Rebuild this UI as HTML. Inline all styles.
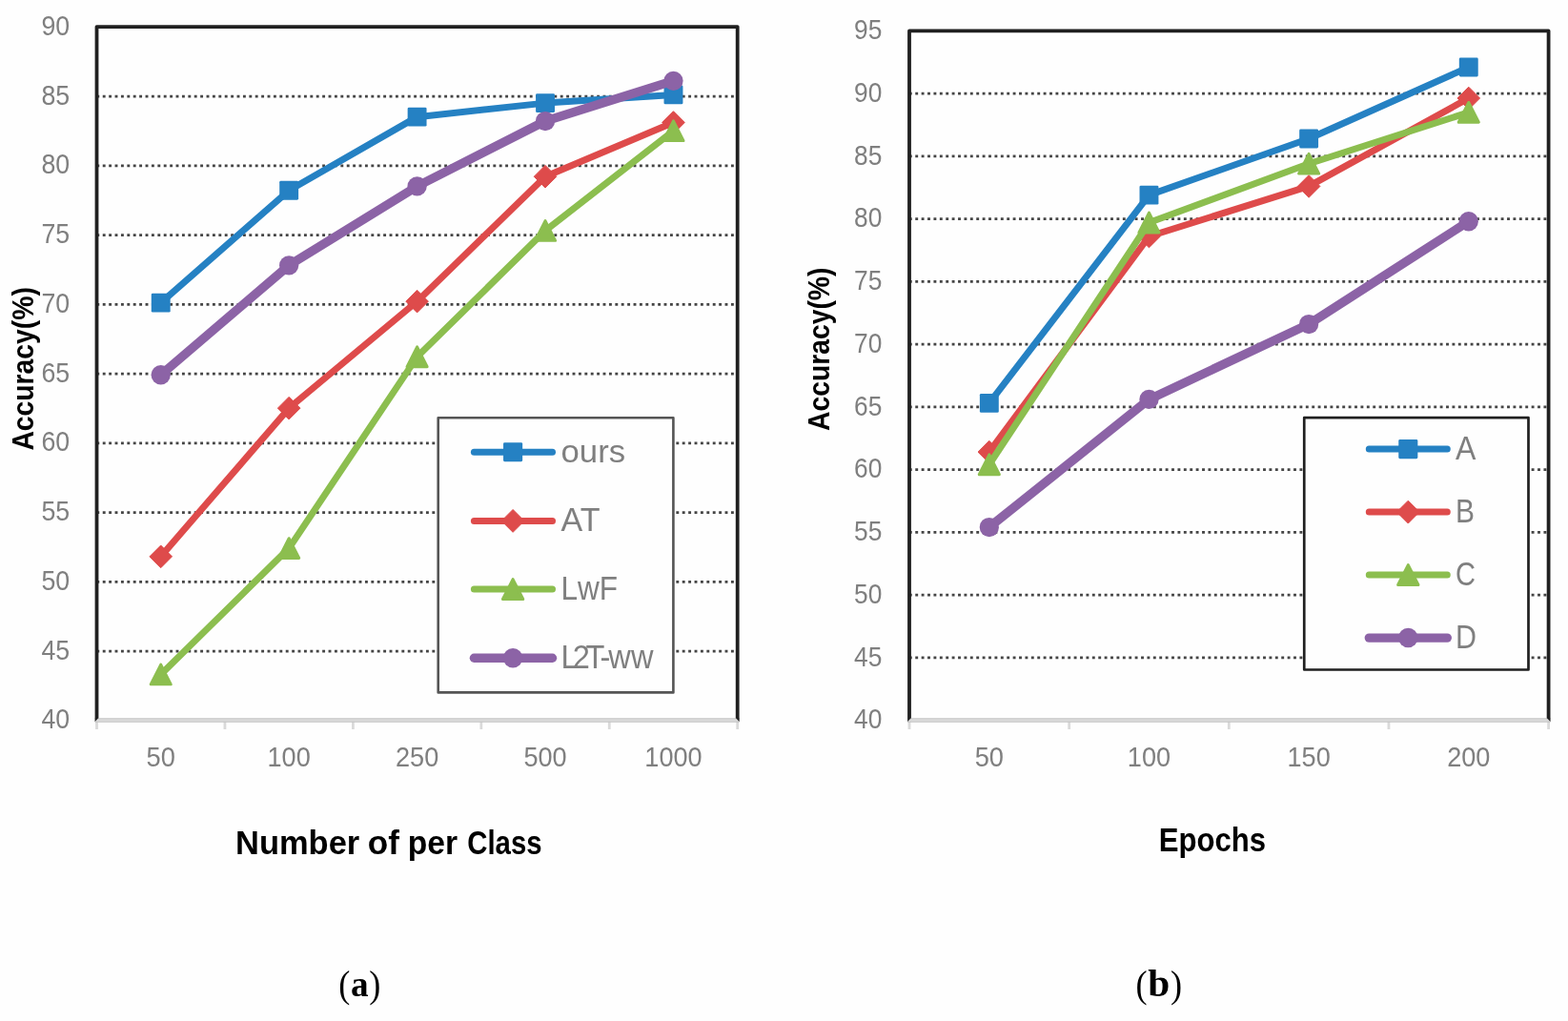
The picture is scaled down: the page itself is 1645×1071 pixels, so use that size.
<!DOCTYPE html>
<html lang="en">
<head>
<meta charset="utf-8">
<title>Accuracy comparison charts</title>
<style>
html, body { margin: 0; padding: 0; background: #fefefe; }
body { width: 1645px; height: 1071px; overflow: hidden; }
svg { display: block; }
text { white-space: pre; }
</style>
</head>
<body>
<svg width="1645" height="1071" viewBox="0 0 1645 1071">
<rect x="0" y="0" width="1645" height="1071" fill="#fefefe"/>
<g>
<line x1="101.35" y1="683.06" x2="771.7" y2="683.06" stroke="#454545" stroke-width="2.8" stroke-dasharray="2.9 3.5" stroke-dashoffset="0"/>
<line x1="101.35" y1="610.32" x2="771.7" y2="610.32" stroke="#454545" stroke-width="2.8" stroke-dasharray="2.9 3.5" stroke-dashoffset="0"/>
<line x1="101.35" y1="537.58" x2="771.7" y2="537.58" stroke="#454545" stroke-width="2.8" stroke-dasharray="2.9 3.5" stroke-dashoffset="0"/>
<line x1="101.35" y1="464.84" x2="771.7" y2="464.84" stroke="#454545" stroke-width="2.8" stroke-dasharray="2.9 3.5" stroke-dashoffset="0"/>
<line x1="101.35" y1="392.1" x2="771.7" y2="392.1" stroke="#454545" stroke-width="2.8" stroke-dasharray="2.9 3.5" stroke-dashoffset="0"/>
<line x1="101.35" y1="319.36" x2="771.7" y2="319.36" stroke="#454545" stroke-width="2.8" stroke-dasharray="2.9 3.5" stroke-dashoffset="0"/>
<line x1="101.35" y1="246.62" x2="771.7" y2="246.62" stroke="#454545" stroke-width="2.8" stroke-dasharray="2.9 3.5" stroke-dashoffset="0"/>
<line x1="101.35" y1="173.88" x2="771.7" y2="173.88" stroke="#454545" stroke-width="2.8" stroke-dasharray="2.9 3.5" stroke-dashoffset="0"/>
<line x1="101.35" y1="101.14" x2="771.7" y2="101.14" stroke="#454545" stroke-width="2.8" stroke-dasharray="2.9 3.5" stroke-dashoffset="0"/>
<line x1="101.5" y1="755.5" x2="101.5" y2="765" stroke="#dadada" stroke-width="2.8"/>
<line x1="235.94" y1="755.5" x2="235.94" y2="765" stroke="#dadada" stroke-width="2.8"/>
<line x1="370.38" y1="755.5" x2="370.38" y2="765" stroke="#dadada" stroke-width="2.8"/>
<line x1="504.82" y1="755.5" x2="504.82" y2="765" stroke="#dadada" stroke-width="2.8"/>
<line x1="639.26" y1="755.5" x2="639.26" y2="765" stroke="#dadada" stroke-width="2.8"/>
<line x1="773.7" y1="755.5" x2="773.7" y2="765" stroke="#dadada" stroke-width="2.8"/>
<line x1="99.6" y1="755.5" x2="775.6" y2="755.5" stroke="#c3c3c3" stroke-width="4.6"/>
<line x1="99.6" y1="755.5" x2="775.6" y2="755.5" stroke="#dadada" stroke-width="2.6"/>
<polyline points="101.5,753.3 101.5,28.1 773.7,28.1 773.7,753.3" fill="none" stroke="#202020" stroke-width="3.8" stroke-linejoin="round"/>
<polygon points="99.6,753.1 103.4,753.1 99.6,757.1" fill="#202020"/>
<polygon points="771.8,753.1 775.6,753.1 775.6,757.1" fill="#202020"/>
<text x="73.1" y="764.3" text-anchor="end" font-family="'Liberation Sans', 'DejaVu Sans', sans-serif" font-size="28.7" fill="#7f7f7f" textLength="29.7" lengthAdjust="spacingAndGlyphs">40</text>
<text x="73.1" y="691.56" text-anchor="end" font-family="'Liberation Sans', 'DejaVu Sans', sans-serif" font-size="28.7" fill="#7f7f7f" textLength="29.7" lengthAdjust="spacingAndGlyphs">45</text>
<text x="73.1" y="618.82" text-anchor="end" font-family="'Liberation Sans', 'DejaVu Sans', sans-serif" font-size="28.7" fill="#7f7f7f" textLength="29.7" lengthAdjust="spacingAndGlyphs">50</text>
<text x="73.1" y="546.08" text-anchor="end" font-family="'Liberation Sans', 'DejaVu Sans', sans-serif" font-size="28.7" fill="#7f7f7f" textLength="29.7" lengthAdjust="spacingAndGlyphs">55</text>
<text x="73.1" y="473.34" text-anchor="end" font-family="'Liberation Sans', 'DejaVu Sans', sans-serif" font-size="28.7" fill="#7f7f7f" textLength="29.7" lengthAdjust="spacingAndGlyphs">60</text>
<text x="73.1" y="400.6" text-anchor="end" font-family="'Liberation Sans', 'DejaVu Sans', sans-serif" font-size="28.7" fill="#7f7f7f" textLength="29.7" lengthAdjust="spacingAndGlyphs">65</text>
<text x="73.1" y="327.86" text-anchor="end" font-family="'Liberation Sans', 'DejaVu Sans', sans-serif" font-size="28.7" fill="#7f7f7f" textLength="29.7" lengthAdjust="spacingAndGlyphs">70</text>
<text x="73.1" y="255.12" text-anchor="end" font-family="'Liberation Sans', 'DejaVu Sans', sans-serif" font-size="28.7" fill="#7f7f7f" textLength="29.7" lengthAdjust="spacingAndGlyphs">75</text>
<text x="73.1" y="182.38" text-anchor="end" font-family="'Liberation Sans', 'DejaVu Sans', sans-serif" font-size="28.7" fill="#7f7f7f" textLength="29.7" lengthAdjust="spacingAndGlyphs">80</text>
<text x="73.1" y="109.64" text-anchor="end" font-family="'Liberation Sans', 'DejaVu Sans', sans-serif" font-size="28.7" fill="#7f7f7f" textLength="29.7" lengthAdjust="spacingAndGlyphs">85</text>
<text x="73.1" y="36.9" text-anchor="end" font-family="'Liberation Sans', 'DejaVu Sans', sans-serif" font-size="28.7" fill="#7f7f7f" textLength="29.7" lengthAdjust="spacingAndGlyphs">90</text>
<text x="168.72" y="803.8" text-anchor="middle" font-family="'Liberation Sans', 'DejaVu Sans', sans-serif" font-size="28.7" fill="#7f7f7f" textLength="30.3" lengthAdjust="spacingAndGlyphs">50</text>
<text x="303.16" y="803.8" text-anchor="middle" font-family="'Liberation Sans', 'DejaVu Sans', sans-serif" font-size="28.7" fill="#7f7f7f" textLength="45.2" lengthAdjust="spacingAndGlyphs">100</text>
<text x="437.6" y="803.8" text-anchor="middle" font-family="'Liberation Sans', 'DejaVu Sans', sans-serif" font-size="28.7" fill="#7f7f7f" textLength="45.2" lengthAdjust="spacingAndGlyphs">250</text>
<text x="572.04" y="803.8" text-anchor="middle" font-family="'Liberation Sans', 'DejaVu Sans', sans-serif" font-size="28.7" fill="#7f7f7f" textLength="45.2" lengthAdjust="spacingAndGlyphs">500</text>
<text x="706.48" y="803.8" text-anchor="middle" font-family="'Liberation Sans', 'DejaVu Sans', sans-serif" font-size="28.7" fill="#7f7f7f" textLength="60.3" lengthAdjust="spacingAndGlyphs">1000</text>
<text transform="translate(34.8,386.9) rotate(-90)" text-anchor="middle" font-family="'Liberation Sans', 'DejaVu Sans', sans-serif" font-weight="bold" font-size="31.8" fill="#000" textLength="171.4" lengthAdjust="spacingAndGlyphs">Accuracy(%)</text>
<text y="895.9" font-family="'Liberation Sans', 'DejaVu Sans', sans-serif" font-weight="bold" font-size="35" fill="#000"><tspan x="247" textLength="130.22" lengthAdjust="spacingAndGlyphs">Number</tspan> <tspan x="385.76" textLength="33.1" lengthAdjust="spacingAndGlyphs">of</tspan> <tspan x="427.77" textLength="52.23" lengthAdjust="spacingAndGlyphs">per</tspan> <tspan x="490.28" textLength="78.22" lengthAdjust="spacingAndGlyphs">Class</tspan></text>
<polyline points="168.72,317.61 303.16,199.77 437.6,122.66 572.04,108.11 706.48,99.39" fill="none" stroke="#2581c3" stroke-width="7.0" stroke-linejoin="round" stroke-linecap="round"/>
<rect x="158.77" y="307.66" width="19.9" height="19.9" rx="1.4" fill="#2581c3"/>
<rect x="293.21" y="189.82" width="19.9" height="19.9" rx="1.4" fill="#2581c3"/>
<rect x="427.65" y="112.71" width="19.9" height="19.9" rx="1.4" fill="#2581c3"/>
<rect x="562.09" y="98.16" width="19.9" height="19.9" rx="1.4" fill="#2581c3"/>
<rect x="696.53" y="89.44" width="19.9" height="19.9" rx="1.4" fill="#2581c3"/>
<polyline points="168.72,583.83 303.16,428.17 437.6,316.15 572.04,185.22 706.48,128.48" fill="none" stroke="#de4b4b" stroke-width="7.0" stroke-linejoin="round" stroke-linecap="round"/>
<polygon points="168.72,572.03 180.52,583.83 168.72,595.63 156.92,583.83" fill="#de4b4b" stroke="#de4b4b" stroke-width="1" stroke-linejoin="round"/>
<polygon points="303.16,416.37 314.96,428.17 303.16,439.97 291.36,428.17" fill="#de4b4b" stroke="#de4b4b" stroke-width="1" stroke-linejoin="round"/>
<polygon points="437.6,304.35 449.4,316.15 437.6,327.95 425.8,316.15" fill="#de4b4b" stroke="#de4b4b" stroke-width="1" stroke-linejoin="round"/>
<polygon points="572.04,173.42 583.84,185.22 572.04,197.02 560.24,185.22" fill="#de4b4b" stroke="#de4b4b" stroke-width="1" stroke-linejoin="round"/>
<polygon points="706.48,116.68 718.28,128.48 706.48,140.28 694.68,128.48" fill="#de4b4b" stroke="#de4b4b" stroke-width="1" stroke-linejoin="round"/>
<polyline points="168.72,707.49 303.16,575.1 437.6,374.34 572.04,241.96 706.48,137.21" fill="none" stroke="#8cbe4f" stroke-width="7.0" stroke-linejoin="round" stroke-linecap="round"/>
<polygon points="168.72,697.09 179.27,717.84 158.17,717.84" fill="#8cbe4f" stroke="#8cbe4f" stroke-width="3" stroke-linejoin="round"/>
<polygon points="303.16,564.7 313.71,585.45 292.61,585.45" fill="#8cbe4f" stroke="#8cbe4f" stroke-width="3" stroke-linejoin="round"/>
<polygon points="437.6,363.94 448.15,384.69 427.05,384.69" fill="#8cbe4f" stroke="#8cbe4f" stroke-width="3" stroke-linejoin="round"/>
<polygon points="572.04,231.56 582.59,252.31 561.49,252.31" fill="#8cbe4f" stroke="#8cbe4f" stroke-width="3" stroke-linejoin="round"/>
<polygon points="706.48,126.81 717.03,147.56 695.93,147.56" fill="#8cbe4f" stroke="#8cbe4f" stroke-width="3" stroke-linejoin="round"/>
<polyline points="168.72,393.25 303.16,278.33 437.6,195.4 572.04,127.03 706.48,84.84" fill="none" stroke="#8c63a6" stroke-width="9.4" stroke-linejoin="round" stroke-linecap="round"/>
<circle cx="168.72" cy="393.25" r="10.15" fill="#8c63a6"/>
<circle cx="303.16" cy="278.33" r="10.15" fill="#8c63a6"/>
<circle cx="437.6" cy="195.4" r="10.15" fill="#8c63a6"/>
<circle cx="572.04" cy="127.03" r="10.15" fill="#8c63a6"/>
<circle cx="706.48" cy="84.84" r="10.15" fill="#8c63a6"/>
<rect x="459.7" y="438.2" width="246.7" height="288.2" fill="#fefefe" stroke="#555555" stroke-width="2.6" stroke-linejoin="round"/>
<line x1="497.4" y1="474.2" x2="579.5" y2="474.2" stroke="#2581c3" stroke-width="7.0" stroke-linecap="round"/>
<rect x="528.05" y="464.15" width="20.1" height="20.1" rx="1.4" fill="#2581c3"/>
<text x="588.5" y="485.2" font-family="'Liberation Sans', 'DejaVu Sans', sans-serif" font-size="33.2" fill="#7f7f7f" textLength="67.6" lengthAdjust="spacingAndGlyphs">ours</text>
<line x1="497.4" y1="546.4" x2="579.5" y2="546.4" stroke="#de4b4b" stroke-width="7.0" stroke-linecap="round"/>
<polygon points="538.1,534.48 550.02,546.4 538.1,558.32 526.18,546.4" fill="#de4b4b" stroke="#de4b4b" stroke-width="1" stroke-linejoin="round"/>
<text x="588.5" y="557.2" font-family="'Liberation Sans', 'DejaVu Sans', sans-serif" font-size="35.4" fill="#7f7f7f" textLength="41" lengthAdjust="spacingAndGlyphs">AT</text>
<line x1="497.4" y1="618.1" x2="579.5" y2="618.1" stroke="#8cbe4f" stroke-width="7.0" stroke-linecap="round"/>
<polygon points="538.1,607.6 548.76,628.55 527.44,628.55" fill="#8cbe4f" stroke="#8cbe4f" stroke-width="3" stroke-linejoin="round"/>
<text x="588.5" y="628.9" font-family="'Liberation Sans', 'DejaVu Sans', sans-serif" font-size="35.4" fill="#7f7f7f" textLength="59.6" lengthAdjust="spacingAndGlyphs">LwF</text>
<line x1="497.4" y1="690.2" x2="579.5" y2="690.2" stroke="#8c63a6" stroke-width="9.4" stroke-linecap="round"/>
<circle cx="538.1" cy="690.2" r="10.25" fill="#8c63a6"/>
<text transform="translate(588.6,700.5) scale(0.92,1)" x="0 13.26 28.15 44.46 53.91 79.89" y="0" font-family="'Liberation Sans', 'DejaVu Sans', sans-serif" font-size="35.4" fill="#7f7f7f">L2T-ww</text>
</g>
<g>
<line x1="953.85" y1="689.81" x2="1622.6" y2="689.81" stroke="#454545" stroke-width="2.8" stroke-dasharray="2.9 3.5" stroke-dashoffset="0"/>
<line x1="953.85" y1="624.08" x2="1622.6" y2="624.08" stroke="#454545" stroke-width="2.8" stroke-dasharray="2.9 3.5" stroke-dashoffset="0"/>
<line x1="953.85" y1="558.34" x2="1622.6" y2="558.34" stroke="#454545" stroke-width="2.8" stroke-dasharray="2.9 3.5" stroke-dashoffset="0"/>
<line x1="953.85" y1="492.6" x2="1622.6" y2="492.6" stroke="#454545" stroke-width="2.8" stroke-dasharray="2.9 3.5" stroke-dashoffset="0"/>
<line x1="953.85" y1="426.87" x2="1622.6" y2="426.87" stroke="#454545" stroke-width="2.8" stroke-dasharray="2.9 3.5" stroke-dashoffset="0"/>
<line x1="953.85" y1="361.13" x2="1622.6" y2="361.13" stroke="#454545" stroke-width="2.8" stroke-dasharray="2.9 3.5" stroke-dashoffset="0"/>
<line x1="953.85" y1="295.4" x2="1622.6" y2="295.4" stroke="#454545" stroke-width="2.8" stroke-dasharray="2.9 3.5" stroke-dashoffset="0"/>
<line x1="953.85" y1="229.66" x2="1622.6" y2="229.66" stroke="#454545" stroke-width="2.8" stroke-dasharray="2.9 3.5" stroke-dashoffset="0"/>
<line x1="953.85" y1="163.92" x2="1622.6" y2="163.92" stroke="#454545" stroke-width="2.8" stroke-dasharray="2.9 3.5" stroke-dashoffset="0"/>
<line x1="953.85" y1="98.19" x2="1622.6" y2="98.19" stroke="#454545" stroke-width="2.8" stroke-dasharray="2.9 3.5" stroke-dashoffset="0"/>
<line x1="954" y1="755.5" x2="954" y2="765" stroke="#dadada" stroke-width="2.8"/>
<line x1="1121.65" y1="755.5" x2="1121.65" y2="765" stroke="#dadada" stroke-width="2.8"/>
<line x1="1289.3" y1="755.5" x2="1289.3" y2="765" stroke="#dadada" stroke-width="2.8"/>
<line x1="1456.95" y1="755.5" x2="1456.95" y2="765" stroke="#dadada" stroke-width="2.8"/>
<line x1="1624.6" y1="755.5" x2="1624.6" y2="765" stroke="#dadada" stroke-width="2.8"/>
<line x1="952.1" y1="755.5" x2="1626.5" y2="755.5" stroke="#c3c3c3" stroke-width="4.6"/>
<line x1="952.1" y1="755.5" x2="1626.5" y2="755.5" stroke="#dadada" stroke-width="2.6"/>
<polyline points="954,753.3 954,32.4 1624.6,32.4 1624.6,753.3" fill="none" stroke="#202020" stroke-width="3.8" stroke-linejoin="round"/>
<polygon points="952.1,753.1 955.9,753.1 952.1,757.1" fill="#202020"/>
<polygon points="1622.7,753.1 1626.5,753.1 1626.5,757.1" fill="#202020"/>
<text x="925.3" y="764.3" text-anchor="end" font-family="'Liberation Sans', 'DejaVu Sans', sans-serif" font-size="28.7" fill="#7f7f7f" textLength="29.3" lengthAdjust="spacingAndGlyphs">40</text>
<text x="925.3" y="698.56" text-anchor="end" font-family="'Liberation Sans', 'DejaVu Sans', sans-serif" font-size="28.7" fill="#7f7f7f" textLength="29.3" lengthAdjust="spacingAndGlyphs">45</text>
<text x="925.3" y="632.83" text-anchor="end" font-family="'Liberation Sans', 'DejaVu Sans', sans-serif" font-size="28.7" fill="#7f7f7f" textLength="29.3" lengthAdjust="spacingAndGlyphs">50</text>
<text x="925.3" y="567.09" text-anchor="end" font-family="'Liberation Sans', 'DejaVu Sans', sans-serif" font-size="28.7" fill="#7f7f7f" textLength="29.3" lengthAdjust="spacingAndGlyphs">55</text>
<text x="925.3" y="501.35" text-anchor="end" font-family="'Liberation Sans', 'DejaVu Sans', sans-serif" font-size="28.7" fill="#7f7f7f" textLength="29.3" lengthAdjust="spacingAndGlyphs">60</text>
<text x="925.3" y="435.62" text-anchor="end" font-family="'Liberation Sans', 'DejaVu Sans', sans-serif" font-size="28.7" fill="#7f7f7f" textLength="29.3" lengthAdjust="spacingAndGlyphs">65</text>
<text x="925.3" y="369.88" text-anchor="end" font-family="'Liberation Sans', 'DejaVu Sans', sans-serif" font-size="28.7" fill="#7f7f7f" textLength="29.3" lengthAdjust="spacingAndGlyphs">70</text>
<text x="925.3" y="304.15" text-anchor="end" font-family="'Liberation Sans', 'DejaVu Sans', sans-serif" font-size="28.7" fill="#7f7f7f" textLength="29.3" lengthAdjust="spacingAndGlyphs">75</text>
<text x="925.3" y="238.41" text-anchor="end" font-family="'Liberation Sans', 'DejaVu Sans', sans-serif" font-size="28.7" fill="#7f7f7f" textLength="29.3" lengthAdjust="spacingAndGlyphs">80</text>
<text x="925.3" y="172.67" text-anchor="end" font-family="'Liberation Sans', 'DejaVu Sans', sans-serif" font-size="28.7" fill="#7f7f7f" textLength="29.3" lengthAdjust="spacingAndGlyphs">85</text>
<text x="925.3" y="106.94" text-anchor="end" font-family="'Liberation Sans', 'DejaVu Sans', sans-serif" font-size="28.7" fill="#7f7f7f" textLength="29.3" lengthAdjust="spacingAndGlyphs">90</text>
<text x="925.3" y="41.2" text-anchor="end" font-family="'Liberation Sans', 'DejaVu Sans', sans-serif" font-size="28.7" fill="#7f7f7f" textLength="29.3" lengthAdjust="spacingAndGlyphs">95</text>
<text x="1037.83" y="803.8" text-anchor="middle" font-family="'Liberation Sans', 'DejaVu Sans', sans-serif" font-size="28.7" fill="#7f7f7f" textLength="30.3" lengthAdjust="spacingAndGlyphs">50</text>
<text x="1205.47" y="803.8" text-anchor="middle" font-family="'Liberation Sans', 'DejaVu Sans', sans-serif" font-size="28.7" fill="#7f7f7f" textLength="45.2" lengthAdjust="spacingAndGlyphs">100</text>
<text x="1373.12" y="803.8" text-anchor="middle" font-family="'Liberation Sans', 'DejaVu Sans', sans-serif" font-size="28.7" fill="#7f7f7f" textLength="45.2" lengthAdjust="spacingAndGlyphs">150</text>
<text x="1540.77" y="803.8" text-anchor="middle" font-family="'Liberation Sans', 'DejaVu Sans', sans-serif" font-size="28.7" fill="#7f7f7f" textLength="45.2" lengthAdjust="spacingAndGlyphs">200</text>
<text transform="translate(869.7,366.3) rotate(-90)" text-anchor="middle" font-family="'Liberation Sans', 'DejaVu Sans', sans-serif" font-weight="bold" font-size="31.8" fill="#000" textLength="171.4" lengthAdjust="spacingAndGlyphs">Accuracy(%)</text>
<text y="892.9" font-family="'Liberation Sans', 'DejaVu Sans', sans-serif" font-weight="bold" font-size="35" fill="#000"><tspan x="1215.84" textLength="112.33" lengthAdjust="spacingAndGlyphs">Epochs</tspan></text>
<polyline points="1037.83,422.87 1205.47,204.63 1373.12,145.47 1540.77,70.53" fill="none" stroke="#2581c3" stroke-width="7.0" stroke-linejoin="round" stroke-linecap="round"/>
<rect x="1027.88" y="412.92" width="19.9" height="19.9" rx="1.4" fill="#2581c3"/>
<rect x="1195.52" y="194.68" width="19.9" height="19.9" rx="1.4" fill="#2581c3"/>
<rect x="1363.17" y="135.52" width="19.9" height="19.9" rx="1.4" fill="#2581c3"/>
<rect x="1530.82" y="60.58" width="19.9" height="19.9" rx="1.4" fill="#2581c3"/>
<polyline points="1037.83,474.15 1205.47,248.02 1373.12,195.43 1540.77,103" fill="none" stroke="#de4b4b" stroke-width="7.0" stroke-linejoin="round" stroke-linecap="round"/>
<polygon points="1037.83,462.35 1049.62,474.15 1037.83,485.95 1026.03,474.15" fill="#de4b4b" stroke="#de4b4b" stroke-width="1" stroke-linejoin="round"/>
<polygon points="1205.47,236.22 1217.27,248.02 1205.47,259.82 1193.67,248.02" fill="#de4b4b" stroke="#de4b4b" stroke-width="1" stroke-linejoin="round"/>
<polygon points="1373.12,183.63 1384.92,195.43 1373.12,207.23 1361.33,195.43" fill="#de4b4b" stroke="#de4b4b" stroke-width="1" stroke-linejoin="round"/>
<polygon points="1540.77,91.2 1552.57,103 1540.77,114.8 1528.97,103" fill="#de4b4b" stroke="#de4b4b" stroke-width="1" stroke-linejoin="round"/>
<polyline points="1037.83,487.3 1205.47,233.55 1373.12,171.76 1540.77,117.86" fill="none" stroke="#8cbe4f" stroke-width="7.0" stroke-linejoin="round" stroke-linecap="round"/>
<polygon points="1037.83,476.9 1048.38,497.65 1027.28,497.65" fill="#8cbe4f" stroke="#8cbe4f" stroke-width="3" stroke-linejoin="round"/>
<polygon points="1205.47,223.15 1216.02,243.9 1194.92,243.9" fill="#8cbe4f" stroke="#8cbe4f" stroke-width="3" stroke-linejoin="round"/>
<polygon points="1373.12,161.36 1383.67,182.11 1362.58,182.11" fill="#8cbe4f" stroke="#8cbe4f" stroke-width="3" stroke-linejoin="round"/>
<polygon points="1540.77,107.46 1551.32,128.21 1530.22,128.21" fill="#8cbe4f" stroke="#8cbe4f" stroke-width="3" stroke-linejoin="round"/>
<polyline points="1037.83,553.03 1205.47,418.93 1373.12,340.05 1540.77,232.24" fill="none" stroke="#8c63a6" stroke-width="9.4" stroke-linejoin="round" stroke-linecap="round"/>
<circle cx="1037.83" cy="553.03" r="10.15" fill="#8c63a6"/>
<circle cx="1205.47" cy="418.93" r="10.15" fill="#8c63a6"/>
<circle cx="1373.12" cy="340.05" r="10.15" fill="#8c63a6"/>
<circle cx="1540.77" cy="232.24" r="10.15" fill="#8c63a6"/>
<rect x="1368.25" y="438.15" width="235.25" height="264.35" fill="#fefefe" stroke="#202020" stroke-width="2.7" stroke-linejoin="round"/>
<line x1="1436.3" y1="471.1" x2="1518.3" y2="471.1" stroke="#2581c3" stroke-width="7.0" stroke-linecap="round"/>
<rect x="1467.25" y="461.05" width="20.1" height="20.1" rx="1.4" fill="#2581c3"/>
<text x="1527" y="481.9" font-family="'Liberation Sans', 'DejaVu Sans', sans-serif" font-size="35.4" fill="#7f7f7f" textLength="21.4" lengthAdjust="spacingAndGlyphs">A</text>
<line x1="1436.3" y1="537.1" x2="1518.3" y2="537.1" stroke="#de4b4b" stroke-width="7.0" stroke-linecap="round"/>
<polygon points="1477.3,525.18 1489.22,537.1 1477.3,549.02 1465.38,537.1" fill="#de4b4b" stroke="#de4b4b" stroke-width="1" stroke-linejoin="round"/>
<text x="1527" y="547.9" font-family="'Liberation Sans', 'DejaVu Sans', sans-serif" font-size="35.4" fill="#7f7f7f" textLength="20" lengthAdjust="spacingAndGlyphs">B</text>
<line x1="1436.3" y1="603.1" x2="1518.3" y2="603.1" stroke="#8cbe4f" stroke-width="7.0" stroke-linecap="round"/>
<polygon points="1477.3,592.6 1487.96,613.55 1466.64,613.55" fill="#8cbe4f" stroke="#8cbe4f" stroke-width="3" stroke-linejoin="round"/>
<text x="1527" y="613.9" font-family="'Liberation Sans', 'DejaVu Sans', sans-serif" font-size="35.4" fill="#7f7f7f" textLength="21" lengthAdjust="spacingAndGlyphs">C</text>
<line x1="1436.3" y1="669.1" x2="1518.3" y2="669.1" stroke="#8c63a6" stroke-width="9.4" stroke-linecap="round"/>
<circle cx="1477.3" cy="669.1" r="10.25" fill="#8c63a6"/>
<text x="1527" y="679.9" font-family="'Liberation Sans', 'DejaVu Sans', sans-serif" font-size="35.4" fill="#7f7f7f" textLength="22" lengthAdjust="spacingAndGlyphs">D</text>
</g>
<text font-family="'Liberation Serif', 'DejaVu Serif', serif" fill="#000"><tspan x="355.3" y="1045.9" font-size="40.1" font-weight="normal" textLength="12.1" lengthAdjust="spacingAndGlyphs">(</tspan><tspan x="368" y="1045.3" font-size="38.2" font-weight="bold" textLength="18.6" lengthAdjust="spacingAndGlyphs">a</tspan><tspan x="387.2" y="1045.9" font-size="40.1" font-weight="normal" textLength="12.1" lengthAdjust="spacingAndGlyphs">)</tspan></text>
<text font-family="'Liberation Serif', 'DejaVu Serif', serif" fill="#000"><tspan x="1191.6" y="1045.9" font-size="40.1" font-weight="normal" textLength="12.1" lengthAdjust="spacingAndGlyphs">(</tspan><tspan x="1204.2" y="1045.4" font-size="40.7" font-weight="bold" textLength="23" lengthAdjust="spacingAndGlyphs">b</tspan><tspan x="1227.9" y="1045.9" font-size="40.1" font-weight="normal" textLength="12.1" lengthAdjust="spacingAndGlyphs">)</tspan></text>
</svg>
</body>
</html>
